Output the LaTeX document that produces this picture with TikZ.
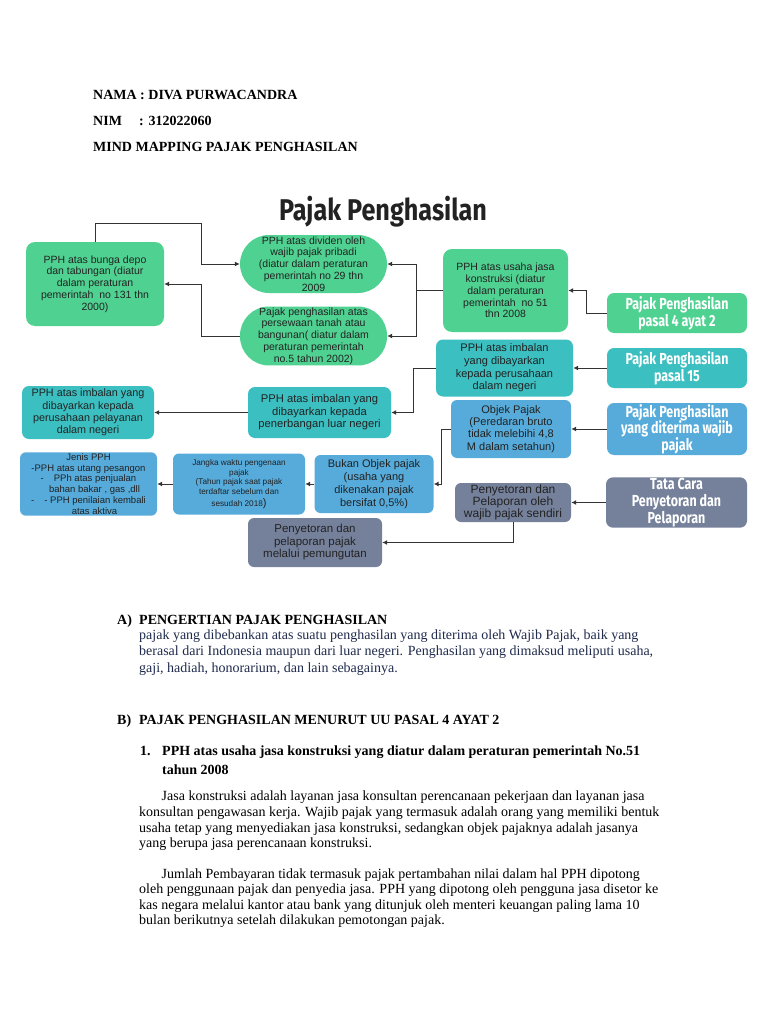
\documentclass[tikz,border=0pt]{standalone}
\usepackage{fontspec}
\setmainfont{Liberation Serif}
\newfontfamily\diagfont{Liberation Sans}
\newfontfamily\condfont[FakeStretch=0.78]{Fira Sans}
\newfontfamily\titlefont[FakeStretch=0.84]{Fira Sans}
\usetikzlibrary{arrows.meta, positioning}
\definecolor{cgreen}{HTML}{4FD291}
\definecolor{cteal}{HTML}{3BBFC1}
\definecolor{cblue}{HTML}{56ABDB}
\definecolor{cslate}{HTML}{75819B}
\definecolor{ctext}{HTML}{222222}
\definecolor{cline}{HTML}{333333}
\definecolor{cnavy}{HTML}{1F2A4D}
\newcommand{\fsz}[2]{\diagfont\fontsize{#1}{#2}\selectfont}
\tikzset{
  box/.style={fill=#1, rounded corners=7pt, align=center, inner sep=1pt, text=ctext, font=\fsz{10.5}{11.8}},
  pill/.style={box=#1, rounded corners=29pt},
  head/.style={box=#1, text=white, font=\condfont\bfseries\fontsize{16}{16.7}\selectfont},
  garis/.style={draw=cline, line width=1pt},
  arr/.style={garis, -{Latex[length=5pt,width=5pt]}},
  txt/.style={anchor=base west, inner sep=0pt, font=\fontsize{14}{16}\selectfont},
  txtb/.style={txt, font=\fontsize{14}{16}\selectfont\bfseries},
}

\begin{document}
\begin{tikzpicture}[x=1pt, y=-1pt]
  \fill[white] (0,0) rectangle (768,1024);
  \useasboundingbox (0,0) rectangle (768,1024);

  % header
  \node[txtb] (nama)  at (93,100) {NAMA : DIVA PURWACANDRA};
  \node[txtb] (nim)   at (93,126) {\makebox[46pt][l]{NIM}: 312022060};
  \node[txtb] (judul) at (93,152) {MIND MAPPING PAJAK PENGHASILAN};

  % ---- mind map
  \node[font=\titlefont\bfseries\fontsize{30}{30}\selectfont, text=ctext] (peta) at (383,212) {Pajak Penghasilan};

  \node[box=cgreen, rounded corners=9pt, minimum width=138pt, minimum height=84pt] (bunga) at (95,284)
    {PPH atas bunga depo\\dan tabungan (diatur\\dalam peraturan\\pemerintah\ \ no 131 thn\\2000)};
  \node[pill=cgreen, minimum width=147pt, minimum height=58pt] (dividen) at (313.5,264)
    {PPH atas dividen oleh\\wajib pajak pribadi\\(diatur dalam peraturan\\pemerintah no 29 thn\\2009};
  \node[pill=cgreen, minimum width=147pt, minimum height=58pt] (sewa) at (313.5,336)
    {Pajak penghasilan atas\\persewaan tanah atau\\bangunan( diatur dalam\\peraturan pemerintah\\no.5 tahun 2002)};
  \node[box=cgreen, rounded corners=9pt, minimum width=125pt, minimum height=83pt] (konstruksi) at (505.5,290.5)
    {PPH atas usaha jasa\\konstruksi (diatur\\dalam peraturan\\pemerintah\ \ no 51\\thn 2008};
  \node[head=cgreen, minimum width=140pt, minimum height=40pt] (pasal4) at (677,313) {Pajak Penghasilan\\pasal 4 ayat 2};

  \node[box=cteal, font=\fsz{11}{12.6}, minimum width=137pt, minimum height=57pt] (imbalan) at (504.5,368)
    {PPH atas imbalan\\yang dibayarkan\\kepada perusahaan\\dalam negeri};
  \node[head=cteal, minimum width=140pt, minimum height=40pt] (pasal15) at (677,368) {Pajak Penghasilan\\pasal 15};
  \node[box=cteal, font=\fsz{11.2}{12.5}, minimum width=143pt, minimum height=51pt] (penerbangan) at (319.5,412.5)
    {PPH atas imbalan yang\\dibayarkan kepada\\penerbangan luar negeri};
  \node[box=cteal, font=\fsz{10.8}{12.4}, minimum width=132pt, minimum height=53pt] (pelayanan) at (88,412.5)
    {PPH atas imbalan yang\\dibayarkan kepada\\perusahaan pelayanan\\dalam negeri};

  \node[box=cblue, rounded corners=6pt, font=\fsz{11}{12.2}, minimum width=120pt, minimum height=58pt] (objek) at (511,429)
    {Objek Pajak\\(Peredaran bruto\\tidak melebihi 4,8\\M dalam setahun)};
  \node[head=cblue, minimum width=140pt, minimum height=52pt] (diterima) at (677,429) {Pajak Penghasilan\\yang diterima wajib\\pajak};
  \node[box=cblue, rounded corners=6pt, font=\fsz{11}{12.8}, minimum width=119pt, minimum height=58pt] (bukan) at (374,484)
    {Bukan Objek pajak\\(usaha yang\\dikenakan pajak\\bersifat 0,5\%)};
  \node[box=cblue, rounded corners=6pt, font=\fsz{8.2}{9.8}, minimum width=132pt, minimum height=61pt] (jangka) at (239,484)
    {Jangka waktu pengenaan\\pajak\\(Tahun pajak saat pajak\\terdaftar sebelum dan\\[2pt]sesudah 2018{\fontsize{11}{11}\selectfont)}};
  \node[box=cblue, rounded corners=6pt, font=\fsz{9.5}{10.9}, minimum width=137pt, minimum height=63pt] (jenis) at (88.5,484)
    {Jenis PPH\\-PPH atas utang pesangon\\-\hspace{10pt}PPh atas penjualan\\\hspace*{12pt}bahan bakar , gas ,dll\\-\hspace{10pt}- PPH penilaian kembali\\\hspace*{12pt}atas aktiva};

  \node[box=cslate, rounded corners=6pt, font=\fsz{12}{12.3}, minimum width=116pt, minimum height=39pt] (sendiri) at (513,502.5)
    {Penyetoran dan\\Pelaporan oleh\\wajib pajak sendiri};
  \node[head=cslate, minimum width=141pt, minimum height=49pt] (tatacara) at (676.5,502.5) {Tata Cara\\Penyetoran dan\\Pelaporan};
  \node[box=cslate, rounded corners=6pt, font=\fsz{11.5}{12.5}, minimum width=134pt, minimum height=49pt] (pemungutan) at (315,542.5)
    {Penyetoran dan\\pelaporan pajak\\melalui pemungutan};

  % connectors
  \coordinate (kiri) at (201.7,224);
  \coordinate (cabang) at (416,290.5);
  \draw[arr] (bunga.north) |- (kiri) |- (dividen.west);
  \draw[arr] (sewa.west) -| (kiri |- bunga.east) -- (bunga.east);
  \draw[garis] (konstruksi.west) -- (cabang);
  \draw[arr] (cabang) |- (dividen.east);
  \draw[arr] (cabang) |- (sewa.east);
  \draw[arr] (pasal4.west) -- ++(-20,0) |- (konstruksi.east);
  \draw[arr] (pasal15) -- (imbalan);
  \draw[arr] (imbalan.west) -- ++(-22.5,0) |- (penerbangan.east);
  \draw[arr] (penerbangan) -- (pelayanan);
  \draw[arr] (diterima) -- (objek);
  \draw[arr] (objek.west) -- ++(-9,0) |- (bukan.east);
  \draw[arr] (bukan) -- (jangka);
  \draw[arr] (jangka) -- (jenis);
  \draw[arr] (tatacara) -- (sendiri);
  \draw[arr] (sendiri.south) |- (pemungutan.east);

  % ---- section A
  \node[txtb] (secA) at (117,624) {\makebox[22pt][l]{A)}PENGERTIAN PAJAK PENGHASILAN};
  \foreach \t [count=\i from 0] in {
      {pajak yang dibebankan atas suatu penghasilan yang diterima oleh Wajib Pajak, baik yang},
      {berasal dari Indonesia maupun dari luar negeri. Penghasilan yang dimaksud meliputi usaha,},
      {gaji, hadiah, honorarium, dan lain sebagainya.}}
    \node[txt, text=cnavy] (pa\i) at (139,{639+16.5*\i}) {\t};

  % ---- section B
  \node[txtb] (secB) at (117,724) {\makebox[22pt][l]{B)}PAJAK PENGHASILAN MENURUT UU PASAL 4 AYAT 2};
  \node[txtb] (butir) at (140,755) {\makebox[22pt][l]{1.}PPH atas usaha jasa konstruksi yang diatur dalam peraturan pemerintah No.51};
  \node[txtb] (butir2) at (162,774) {tahun 2008};
  \foreach \t [count=\i from 0] in {
      {\hspace*{22.5pt}Jasa konstruksi adalah layanan jasa konsultan perencanaan pekerjaan dan layanan jasa},
      {konsultan pengawasan kerja. Wajib pajak yang termasuk adalah orang yang memiliki bentuk},
      {usaha tetap yang menyediakan jasa konstruksi, sedangkan objek pajaknya adalah jasanya},
      {yang berupa jasa perencanaan konstruksi.}}
    \node[txt] (pb\i) at (139,{800.5+15.8*\i}) {\t};
  \foreach \t [count=\i from 0] in {
      {\hspace*{22.5pt}Jumlah Pembayaran tidak termasuk pajak pertambahan nilai dalam hal PPH dipotong},
      {oleh penggunaan pajak dan penyedia jasa. PPH yang dipotong oleh pengguna jasa disetor ke},
      {kas negara melalui kantor atau bank yang ditunjuk oleh menteri keuangan paling lama 10},
      {bulan berikutnya setelah dilakukan pemotongan pajak.}}
    \node[txt] (pc\i) at (139,{878+15.6*\i}) {\t};
\end{tikzpicture}
\end{document}
